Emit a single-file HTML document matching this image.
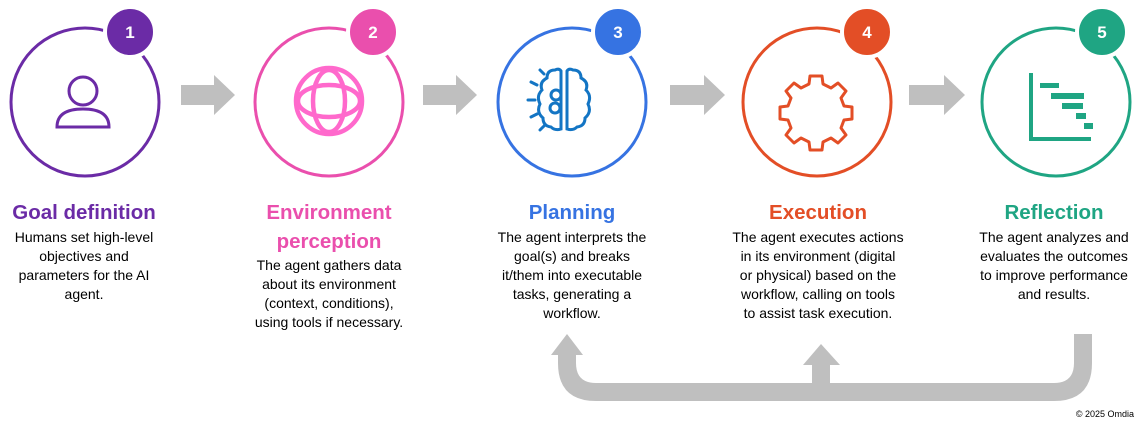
<!DOCTYPE html>
<html><head><meta charset="utf-8"><style>
html,body{margin:0;padding:0;background:#fff;}
body{width:1142px;height:431px;overflow:hidden;position:relative;font-family:"Liberation Sans",Arial,sans-serif;}
.t{position:absolute;text-align:center;font-weight:bold;font-size:20.5px;line-height:29px;}
.b{position:absolute;text-align:center;font-size:14px;line-height:19px;color:#000;}
</style></head><body>
<svg width="1142" height="431" style="position:absolute;left:0;top:0">
<g fill="none" stroke-width="3">
<circle cx="85" cy="102" r="74" stroke="#6b2ba6"/>
<circle cx="329" cy="102" r="74" stroke="#ea4fad"/>
<circle cx="572" cy="102" r="74" stroke="#3673e2"/>
<circle cx="817" cy="102" r="74" stroke="#e34e26"/>
<circle cx="1056" cy="102" r="74" stroke="#1fa583"/>
</g>
<g stroke="#fff" stroke-width="4">
<circle cx="130" cy="32" r="25" fill="#6b2ba6"/>
<circle cx="373" cy="32" r="25" fill="#ea4fad"/>
<circle cx="618" cy="32" r="25" fill="#3673e2"/>
<circle cx="867" cy="32" r="25" fill="#e34e26"/>
<circle cx="1102" cy="32" r="25" fill="#1fa583"/>
</g>
<g fill="#fff" font-weight="bold" font-size="17" text-anchor="middle" font-family="Liberation Sans,sans-serif">
<text x="130" y="38">1</text><text x="373" y="38">2</text><text x="618" y="38">3</text><text x="867" y="38">4</text><text x="1102" y="38">5</text>
</g>
<g fill="#bfbfbf">
<polygon points="181,85 214,85 214,75 235,95 214,115 214,105 181,105"/>
<polygon points="423,85 456,85 456,75 477,95 456,115 456,105 423,105"/>
<polygon points="670,85 704,85 704,75 725,95 704,115 704,105 670,105"/>
<polygon points="909,85 944,85 944,75 965,95 944,115 944,105 909,105"/>
<path d="M558,355 L558,363 Q558,401 596,401 L1054,401 Q1092,401 1092,363 L1092,334 L1074,334 L1074,363 Q1074,383 1054,383 L830,383 L830,365 L840,365 L821,344 L803,365 L812,365 L812,383 L596,383 Q576,383 576,363 L576,355 L583,355 L567,334 L551,355 Z"/>
</g>
<g fill="none" stroke="#6b2ba6" stroke-width="3">
<circle cx="83" cy="91" r="14"/>
<path d="M57,127 Q57,109 83,109 Q109,109 109,127 Z"/>
</g>
<g fill="none" stroke="#ff69cc" stroke-width="4.5">
<circle cx="329" cy="101" r="33"/>
<ellipse cx="329" cy="101" rx="16" ry="31"/>
<ellipse cx="329" cy="101" rx="31" ry="16"/>
</g>
<g fill="none" stroke="#1375c4" stroke-width="3" stroke-linecap="round">
<path d="M555,70 q-8,0 -8,8 q-8,4 -5,12 q-6,6 -2,14 q-4,8 3,14 q0,8 8,9 q4,4 10,2 l0,-58 q-2,-3 -6,-1z"/>
<path d="M573,70 q8,0 8,8 q8,4 5,12 q6,6 2,14 q4,8 -3,14 q0,8 -8,9 q-4,4 -10,2 l0,-58 q2,-3 6,-1z"/>
<circle cx="556" cy="95" r="5"/><circle cx="555" cy="108" r="5"/>
<line x1="540" y1="70" x2="544" y2="74"/><line x1="531" y1="82" x2="537" y2="85"/>
<line x1="528" y1="100" x2="535" y2="100"/><line x1="531" y1="117" x2="537" y2="114"/>
<line x1="540" y1="130" x2="544" y2="126"/>
</g>
<g fill="none" stroke="#e34e26" stroke-width="3" stroke-linejoin="round">
<path d="M810,76 h12 l1,8 l8,4 l7,-5 l8,8 l-5,7 l3,8 l8,1 v12 l-8,1 l-3,8 l5,7 l-8,8 l-7,-5 l-8,4 l-1,8 h-12 l-1,-8 l-8,-4 l-7,5 l-8,-8 l5,-7 l-3,-8 l-8,-1 v-12 l8,-1 l3,-8 l-5,-7 l8,-8 l7,5 l8,-4 z"/>
</g>
<g fill="#1fa583">
<rect x="1029" y="73" width="4" height="68"/><rect x="1029" y="137" width="62" height="4"/>
<rect x="1040" y="83" width="19" height="5"/><rect x="1051" y="93" width="33" height="6"/>
<rect x="1062" y="103" width="21" height="6"/><rect x="1076" y="113" width="10" height="6"/>
<rect x="1084" y="123" width="9" height="6"/>
</g>
<text x="1134" y="417" font-size="9" text-anchor="end" fill="#000" font-family="Liberation Sans,sans-serif">© 2025 Omdia</text>
</svg>
<div class="t" style="left:-10px;width:188px;top:198px;color:#6b2ba6">Goal definition</div>
<div class="b" style="left:-10px;width:188px;top:228px">Humans set high-level<br>objectives and<br>parameters for the AI<br>agent.</div>
<div class="t" style="left:230px;width:198px;top:198px;color:#ea4fad">Environment<br>perception</div>
<div class="b" style="left:225px;width:208px;top:256px">The agent gathers data<br>about its environment<br>(context, conditions),<br>using tools if necessary.</div>
<div class="t" style="left:470px;width:204px;top:198px;color:#3673e2">Planning</div>
<div class="b" style="left:466px;width:212px;top:228px">The agent interprets the<br>goal(s) and breaks<br>it/them into executable<br>tasks, generating a<br>workflow.</div>
<div class="t" style="left:708px;width:220px;top:198px;color:#e34e26">Execution</div>
<div class="b" style="left:704px;width:228px;top:228px">The agent executes actions<br>in its environment (digital<br>or physical) based on the<br>workflow, calling on tools<br>to assist task execution.</div>
<div class="t" style="left:948px;width:212px;top:198px;color:#1fa583">Reflection</div>
<div class="b" style="left:948px;width:212px;top:228px">The agent analyzes and<br>evaluates the outcomes<br>to improve performance<br>and results.</div>
</body></html>
